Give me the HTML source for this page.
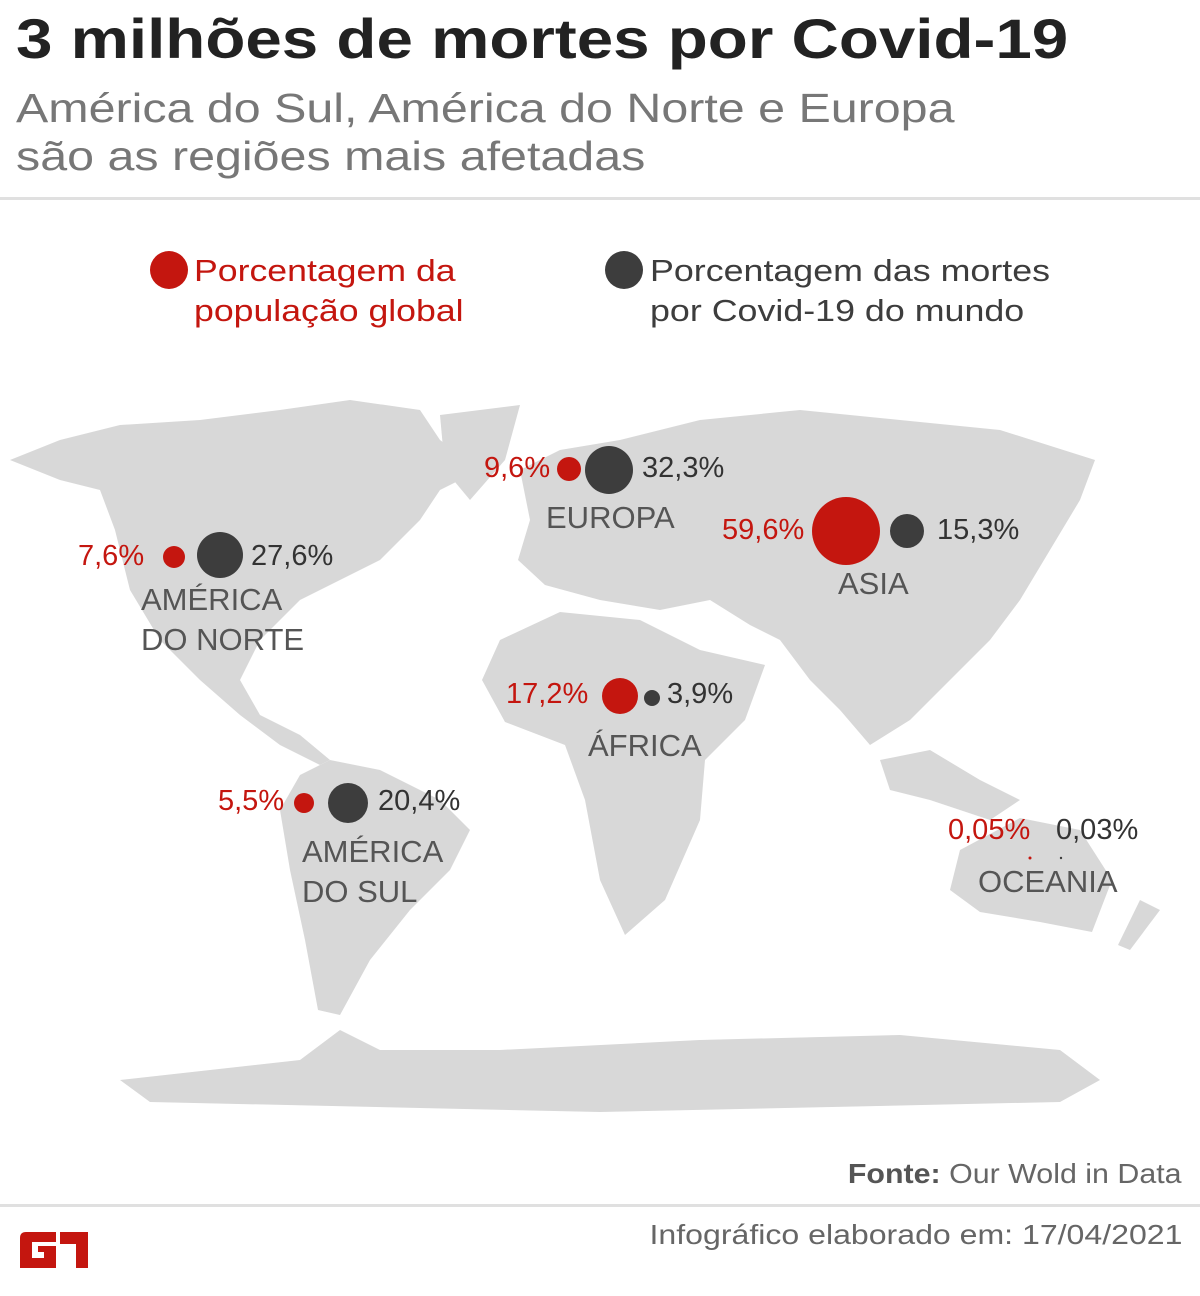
<!DOCTYPE html>
<html><head><meta charset="utf-8">
<style>
html,body{margin:0;padding:0;background:#fff;}
body{width:1200px;height:1296px;position:relative;overflow:hidden;font-family:"Liberation Sans",sans-serif;}
.t{position:absolute;white-space:nowrap;}
</style></head><body>
<div class="t" style="left:16px;top:6px;font-size:56px;font-weight:bold;color:#222;transform:scaleX(1.17);transform-origin:0 0">3 milhões de mortes por Covid-19</div>
<div class="t" style="left:16px;top:84px;font-size:41px;color:#777;line-height:48px;transform:scaleX(1.18);transform-origin:0 0">América do Sul, América do Norte e Europa<br>são as regiões mais afetadas</div>
<div style="position:absolute;left:0;top:197px;width:1200px;height:3px;background:#e0e0e0"></div>

<svg style="position:absolute;left:0;top:0" width="1200" height="1296">
<g fill="#d8d8d8">
<polygon points="10,460 60,440 120,425 200,420 280,410 350,400 420,410 440,440 480,470 440,490 420,520 380,560 340,580 300,600 260,640 240,680 260,715 300,735 330,760 320,765 280,745 240,715 200,680 160,640 130,590 115,530 100,490 60,480"/>
<polygon points="440,415 520,405 505,460 470,500 445,470"/>
<polygon points="330,760 380,770 440,800 470,830 450,870 410,910 370,960 340,1015 318,1010 305,940 290,870 280,810 300,775"/>
<polygon points="520,470 560,450 620,440 700,420 800,410 900,420 1000,430 1095,460 1080,500 1050,550 1020,600 990,640 950,680 910,720 870,745 840,710 810,680 780,640 750,625 710,600 660,610 600,600 545,585 518,560 530,520"/>
<polygon points="500,640 560,612 640,620 700,650 765,665 745,720 705,760 700,820 665,900 625,935 600,880 585,800 565,745 505,722 482,680"/>
<polygon points="880,760 930,750 980,780 1020,800 990,820 930,800 890,790"/>
<polygon points="960,850 1020,818 1080,830 1112,880 1092,932 1040,922 980,912 950,890"/>
<polygon points="1140,900 1160,910 1130,950 1118,945"/>
<polygon points="120,1080 300,1060 340,1030 380,1050 500,1050 700,1040 900,1035 1060,1050 1100,1080 1060,1102 600,1112 150,1102"/>
</g>
<g fill="#c4160f">
<circle cx="169" cy="270" r="19"/>
<circle cx="846" cy="531" r="34"/>
<circle cx="569" cy="469" r="12"/>
<circle cx="174" cy="557" r="11"/>
<circle cx="304" cy="803" r="10"/>
<circle cx="620" cy="696" r="18"/>
<circle cx="1030" cy="858" r="1.5"/>
</g>
<g fill="#3d3d3d">
<circle cx="624" cy="270" r="19"/>
<circle cx="907" cy="531" r="17"/>
<circle cx="609" cy="470" r="24"/>
<circle cx="220" cy="555" r="23"/>
<circle cx="348" cy="803" r="20"/>
<circle cx="652" cy="698" r="8"/>
<circle cx="1061" cy="858" r="1.2"/>
</g>
<path d="M20 1268 L20 1238 Q20 1232 26 1232 L56 1232 L56 1242 L32 1242 L32 1258 L44 1258 L44 1252 L38 1252 L38 1246 L56 1246 L56 1268 Z M60 1232 L88 1232 L88 1268 L76 1268 L76 1244 L60 1244 Z" fill="#c4160f"/>
</svg>

<div class="t" style="left:194px;top:251px;font-size:31px;color:#c4160f;line-height:40px;transform:scaleX(1.15);transform-origin:0 0">Porcentagem da<br>população global</div>
<div class="t" style="left:650px;top:251px;font-size:31px;color:#3d3d3d;line-height:40px;transform:scaleX(1.155);transform-origin:0 0">Porcentagem das mortes<br>por Covid-19 do mundo</div>

<div class="t" style="left:484px;top:452px;font-size:29px;color:#c4160f">9,6%</div>
<div class="t" style="left:642px;top:452px;font-size:29px;color:#333">32,3%</div>
<div class="t" style="left:546px;top:500px;font-size:31px;color:#555">EUROPA</div>

<div class="t" style="left:722px;top:514px;font-size:29px;color:#c4160f">59,6%</div>
<div class="t" style="left:937px;top:514px;font-size:29px;color:#333">15,3%</div>
<div class="t" style="left:838px;top:566px;font-size:31px;color:#555">ASIA</div>

<div class="t" style="left:78px;top:540px;font-size:29px;color:#c4160f">7,6%</div>
<div class="t" style="left:251px;top:540px;font-size:29px;color:#333">27,6%</div>
<div class="t" style="left:141px;top:580px;font-size:31px;color:#555;line-height:40px">AMÉRICA<br>DO NORTE</div>

<div class="t" style="left:506px;top:678px;font-size:29px;color:#c4160f">17,2%</div>
<div class="t" style="left:667px;top:678px;font-size:29px;color:#333">3,9%</div>
<div class="t" style="left:588px;top:728px;font-size:31px;color:#555">ÁFRICA</div>

<div class="t" style="left:218px;top:785px;font-size:29px;color:#c4160f">5,5%</div>
<div class="t" style="left:378px;top:785px;font-size:29px;color:#333">20,4%</div>
<div class="t" style="left:302px;top:832px;font-size:31px;color:#555;line-height:40px">AMÉRICA<br>DO SUL</div>

<div class="t" style="left:948px;top:814px;font-size:29px;color:#c4160f">0,05%</div>
<div class="t" style="left:1056px;top:814px;font-size:29px;color:#333">0,03%</div>
<div class="t" style="left:978px;top:864px;font-size:31px;color:#555">OCEANIA</div>

<div class="t" style="right:18px;top:1158px;font-size:28px;color:#666;transform:scaleX(1.085);transform-origin:100% 0"><b style="color:#555">Fonte:</b> Our Wold in Data</div>
<div style="position:absolute;left:0;top:1204px;width:1200px;height:3px;background:#e0e0e0"></div>
<div class="t" style="right:18px;top:1219px;font-size:28px;color:#666;transform:scaleX(1.145);transform-origin:100% 0">Infográfico elaborado em: 17/04/2021</div>
</body></html>
